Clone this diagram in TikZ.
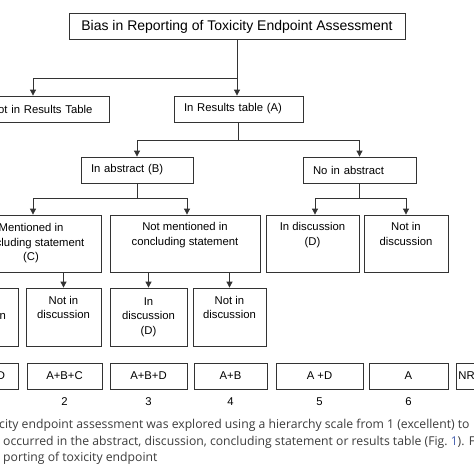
\documentclass[tikz,border=0pt]{standalone}
\usepackage{fontspec}
\setmainfont{Liberation Sans}
\newfontfamily\capfont{Open Sans}
\usetikzlibrary{arrows.meta}
\definecolor{linegray}{HTML}{333333}
\definecolor{capgray}{HTML}{3C3C3C}
\definecolor{figblue}{HTML}{4A63B0}

\begin{document}
\begin{tikzpicture}[x=1pt, y=-1pt,
  tbox/.style={draw=linegray, line width=0.8pt, font=\fontsize{11.3}{14.5}\selectfont, minimum height=26, inner sep=0pt},
  lbox/.style={tbox, text width=#1, align=left, inner xsep=10pt},
  tall/.style={tbox, align=center, minimum height=57},
  num/.style={font=\fontsize{11.3}{14}\selectfont, inner sep=0pt},
  captext/.style={font=\capfont\fontsize{12.2}{16}\selectfont, text=capgray, inner sep=0pt, anchor=base west},
  conn/.style={draw=linegray, line width=0.8pt},
  arr/.style={conn, -{Triangle[length=6pt,width=6pt]}}]
			\clip (0,0) rectangle (474,474);
			\fill[white] (0,0) rectangle (474,474);

			% levels 1 and 2
			\node[tbox, minimum width=336, font=\fontsize{14}{16}\selectfont] (top) at (237,26.5){Bias in Reporting of Toxicity Endpoint Assessment};
			\node[lbox=109] (nrt) at (44.5,109){Not in Results Table};
			\node[lbox=109] (rst) at (238.5,109){In Results table (A)};
			\node[lbox=92] (abs) at (137,170){In abstract (B)};
			\node[lbox=93] (noabs) at (359.5,170){No in abstract};

			% level 3
			\node[tall, minimum width=140] (ment) at (31,243.5){Mentioned in\\concluding statement\\(C)};
			\node[tall, minimum width=150] (notm) at (185,243.5){Not mentioned in\\concluding statement\\\strut};
			\node[tall, minimum width=93] (indD) at (312.5,243.5){In discussion\\(D)\\\strut};
			\node[tall, minimum width=84] (notD) at (406,243.5){Not in\\discussion\\\strut};

			% level 4
			\node[tall, minimum height=58, minimum width=77] (dC) at (-20.5,317){In\\discussion\\(D)};
			\node[tall, minimum height=58, minimum width=75] (ndC) at (63.5,317){Not in\\discussion\\\strut};
			\node[tall, minimum height=58, minimum width=77] (dnC) at (148.5,317){In\\discussion\\(D)};
			\node[tall, minimum height=58, minimum width=73] (ndnC) at (229.5,317){Not in\\discussion\\\strut};

			% scores
			\node[tbox, minimum width=77] (r1) at (-20.5,376){A+B+C+D};
			\node[tbox, minimum width=75] (r2) at (64.5,376){A+B+C};
			\node[tbox, minimum width=77] (r3) at (148.5,376){A+B+D};
			\node[tbox, minimum width=73] (r4) at (230.5,376){A+B};
			\node[tbox, minimum width=87] (r5) at (319.5,376){A +D};
			\node[tbox, minimum width=79] (r6) at (408.5,376){A};
			\node[tbox, anchor=west, text width=76, inner xsep=2pt, align=left] (r7) at (456,376){NR};

			\node[num] (n2) at (64.5,402){2};
			\node[num] (n3) at (148.5,402){3};
			\node[num] (n4) at (230.5,402){4};
			\node[num] (n5) at (319.5,402){5};
			\node[num] (n6) at (408.5,402){6};

			% connectors
			\draw[conn] (top.south) -- ++(0,38) coordinate (s0);
			\draw[arr] (s0) -| ([xshift=-11.5]nrt.north);
			\draw[arr] (s0) -- (s0 |- rst.north);
			\draw[conn] (rst.south) -- ++(0,18) coordinate (s1);
			\draw[arr] (s1) -| (abs.north);
			\draw[arr] (s1) -| (noabs.north);
			\draw[conn] (abs.south) -- ++(0,15) coordinate (s2);
			\draw[arr] (s2) -| ([xshift=2]ment.north);
			\draw[arr] (s2) -| ([xshift=2]notm.north);
			\draw[conn] (noabs.south) -- ++(0,15) coordinate (s3);
			\draw[arr] (s3) -| ([xshift=2.5]indD.north);
			\draw[arr] (s3) -| (notD.north);
			\draw[arr] (ment.south -| dC.north) -- (dC.north);
			\draw[arr] (ment.south -| ndC.north) -- (ndC.north);
			\draw[arr] (notm.south -| dnC.north) -- (dnC.north);
			\draw[arr] (notm.south -| ndnC.north) -- (ndnC.north);

			% caption
			\node[captext] (cap1) at (-1,428){city endpoint assessment was explored using a hierarchy scale from 1 (excellent) to};
			\node[captext] (cap2) at (3,445.5){occurred in the abstract, discussion, concluding statement or results table (Fig.~{\color{figblue}1}). F};
			\node[captext] (cap3) at (3,461.5){porting of toxicity endpoint};
\end{tikzpicture}
\end{document}
